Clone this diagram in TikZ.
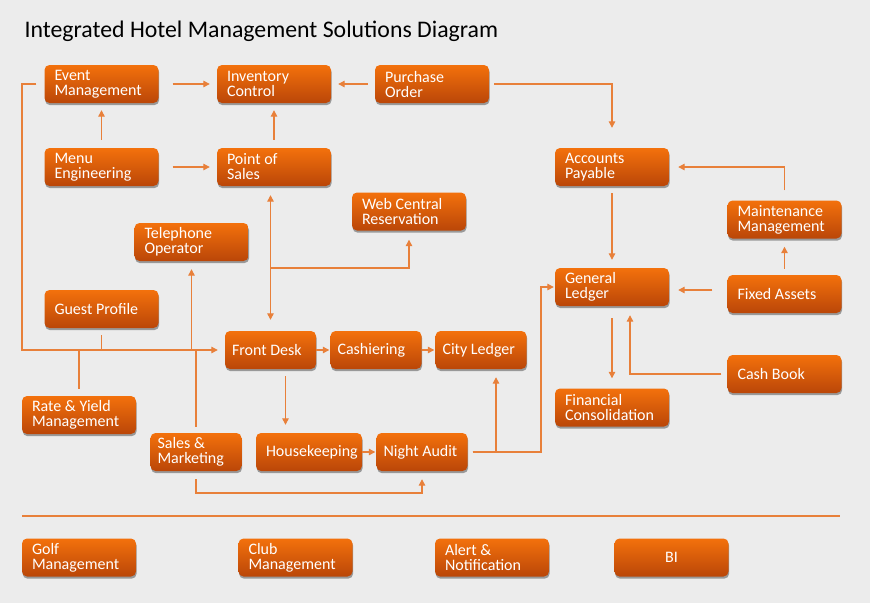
\documentclass[tikz,border=0pt]{standalone}
\usepackage{fontspec}
\setmainfont{Carlito}
\usetikzlibrary{arrows.meta,shadows}

\definecolor{bgcol}{RGB}{236,236,236}
\definecolor{boxtop}{RGB}{243,113,12}
\definecolor{boxbot}{RGB}{186,70,8}
\definecolor{linecol}{RGB}{232,128,58}

\tikzset{
  mod/.style={rounded corners=5pt, top color=boxtop, bottom color=boxbot,
    draw=none, text=white, align=flush left, text width=94pt, inner xsep=10pt,
    minimum height=38pt, font=\fontsize{16}{15}\selectfont,
    drop shadow={shadow xshift=0.6pt, shadow yshift=-2.2pt, opacity=.35, fill=black}},
  narrow/.style={text width=77pt, inner xsep=7pt},
  link/.style={draw=linecol, line width=1.2pt, -{Triangle[length=6.5pt,width=6.5pt]}},
  plain/.style={draw=linecol, line width=1.2pt},
}

\begin{document}
\begin{tikzpicture}[x=1pt, y=-1pt]
    \fill[bgcol] (0,0) rectangle (870,603);
    \useasboundingbox (0,0) rectangle (870,603);

    \node[anchor=base west, font=\fontsize{23.8}{24}\selectfont] (ttl) at (21,37)
        {Integrated Hotel Management Solutions Diagram};

%%   kw   (name)   (x, y)   {text}
    \node[mod] (evt)   at (101.5, 84)   {Event\\Management};
    \node[mod] (inv)   at (274, 84)     {Inventory\\Control};
    \node[mod] (po)    at (432, 84)     {Purchase\\Order};
    \node[mod] (menu)  at (101.5, 167)  {Menu\\Engineering};
    \node[mod] (pos)   at (274, 167)    {Point of\\Sales};
    \node[mod] (wcr)   at (409, 211.5)  {Web Central\\Reservation};
    \node[mod] (tel)   at (191.5, 242)  {Telephone\\Operator};
    \node[mod] (gp)    at (101.5, 309)  {Guest Profile};
    \node[mod, narrow] (fd)   at (270.5, 350) {Front Desk};
    \node[mod, narrow] (cash) at (376, 350)   {Cashiering};
    \node[mod, narrow] (cl)   at (481, 350)   {City Ledger};
    \node[mod] (rate)  at (79, 415)     {Rate \& Yield\\Management};
    \node[mod, narrow] (sm)   at (196, 452)   {Sales \&\\Marketing};
    \node[mod, text width=86pt] (hk) at (309, 452) {Housekeeping};
    \node[mod, narrow] (na)   at (422, 452)   {Night Audit};
    \node[mod] (ap)    at (612, 167)    {Accounts\\Payable};
    \node[mod] (gl)    at (612, 287)    {General\\Ledger};
    \node[mod] (fc)    at (612, 407.5)  {Financial\\Consolidation};
    \node[mod] (mm)    at (784.5, 219.5) {Maintenance\\Management};
    \node[mod] (fa)    at (784.5, 294)  {Fixed Assets};
    \node[mod] (cb)    at (784.5, 374)  {Cash Book};

    \node[mod] (golf)  at (79, 557.5)   {Golf\\Management};
    \node[mod] (club)  at (295.5, 557.5) {Club\\Management};
    \node[mod] (alert) at (492, 557.5)  {Alert \&\\Notification};
    \node[mod, align=center] (bi) at (671.5, 557.5) {BI};

    \coordinate (lbus) at (22, 350);
    \coordinate (sbus) at (300, 493);
    \coordinate (gbus) at (541, 452);
    \coordinate (web)  at (270.5, 268);
    \coordinate (rl1)  at (22, 516);
    \coordinate (rl2)  at (840, 516);

    \draw[link, shorten <=14pt, shorten >=7pt] (evt.east) -- (inv.west);
    \draw[link, shorten <=7pt, shorten >=7pt] (po.west) -- (inv.east);
    \draw[link, shorten <=8pt, shorten >=7pt] (menu.north) -- (evt.south);
    \draw[link, shorten <=14pt, shorten >=7pt] (menu.east) -- (pos.west);
    \draw[link, shorten <=8pt, shorten >=7pt] (pos.north) -- (inv.south);
    \draw[link, shorten <=5pt, shorten >=20pt] (po.east) -| (ap.north);

    \draw[link, {Triangle[length=6.5pt,width=6.5pt]}-{Triangle[length=6.5pt,width=6.5pt]},
          shorten <=9pt, shorten >=11pt] (fd.north |- pos.south) -- (fd.north);
    \draw[link, shorten >=9pt] (web) -| (wcr.south);

    \draw[link, shorten <=8pt, shorten >=7pt] (evt.west) -| (lbus) -- (fd.west);
    \draw[plain, shorten <=7pt] (gp.south) -- (gp.south |- lbus);
    \draw[plain, shorten <=7pt] (rate.north) -- (rate.north |- lbus);
    \draw[link, shorten >=8pt] (tel.south |- lbus) -- (tel.south);
    \draw[plain, shorten <=6pt] (sm.north) -- (sm.north |- lbus);
    \draw[link, shorten <=8pt, shorten >=8pt] (sm.south) |- (sbus) -| (na.south);

    \draw[link, shorten >=1pt] (fd.east) -- (cash.west);
    \draw[link, shorten >=1pt] (cash.east) -- (cl.west);
    \draw[link, shorten <=7pt, shorten >=8pt] ([xshift=15pt]fd.south) -- ([xshift=15pt]fd.south |- hk.north);
    \draw[link, shorten >=1pt] (hk.east) -- (na.west);
    \draw[link, shorten <=5pt, shorten >=8pt] (na.east) -| ([xshift=15pt]cl.south);
    \draw[link, shorten <=5pt, shorten >=1pt] (na.east) -- (gbus) |- (gl.west);

    \draw[link, shorten <=7pt, shorten >=8pt] (ap.south) -- (gl.north);
    \draw[link, shorten <=10pt, shorten >=9pt] (mm.north) |- (ap.east);
    \draw[link, shorten <=6pt, shorten >=8pt] (fa.north) -- (mm.south);
    \draw[link, shorten <=15pt, shorten >=9pt] ([yshift=4pt]fa.west) -- ([yshift=4pt]fa.west -| gl.east);
    \draw[link, shorten <=12pt, shorten >=10pt] (gl.south) -- (fc.north);
    \draw[link, shorten <=6pt, shorten >=9pt] (cb.west) -| ([xshift=18pt]gl.south);

    \draw[plain] (rl1) -- (rl2);
\end{tikzpicture}
\end{document}
